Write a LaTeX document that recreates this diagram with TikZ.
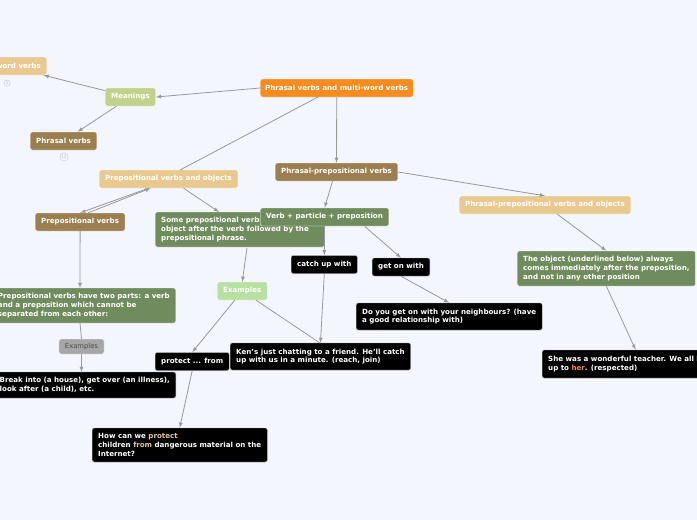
\documentclass[tikz,border=0pt]{standalone}
\usepackage{fontspec}
\setmainfont{DejaVu Sans}
\usetikzlibrary{calc}
\begin{document}
\begin{tikzpicture}[x=1pt,y=-1pt,
 bx/.style={rounded corners=2pt,draw=white,line width=0.4pt,text=white,font=\fontsize{7.1}{8.6}\selectfont\bfseries,inner xsep=6pt,inner ysep=0pt,minimum height=18pt,align=left,anchor=west},
 org/.style={bx,fill=orange1},
 tan/.style={bx,fill=tan1},
 lgr/.style={bx,fill=lgr1},
 brn/.style={bx,fill=brn1},
 grn/.style={bx,fill=grn1},
 blk/.style={bx,fill=black,draw=gray!60},
 gry/.style={bx,fill=gray!70,text=black!70,font=\fontsize{6.8}{8}\selectfont,minimum height=15pt},
 ex/.style={bx,fill=ex1},
 cnt/.style={circle,draw=gray!40,text=gray!50,inner sep=0.6pt,font=\fontsize{4.5}{5}\selectfont},
 ar/.style={draw=gray!80,line width=0.8pt,-latex},
 ln/.style={draw=gray!80,line width=0.8pt}]
\definecolor{orange1}{HTML}{F68B1E}
\definecolor{tan1}{HTML}{E9C98F}
\definecolor{lgr1}{HTML}{C1D28A}
\definecolor{brn1}{HTML}{9B7F50}
\definecolor{grn1}{HTML}{708B5D}
\definecolor{ex1}{HTML}{B8E0A0}
\definecolor{hl}{HTML}{E9C98F}
\fill[fill={rgb,255:red,243;green,245;blue,255}] (0,0) rectangle (697,520);
\useasboundingbox (0,0) rectangle (697,520);
\node[org,inner xsep=5pt] (main) at (260,88) {Phrasal verbs and multi-word verbs};
\node[tan,anchor=east] (mw) at (47,66) {Multi-word verbs};
\node[cnt] (c1) at (7,83) {1};
\node[lgr] (mean) at (105,97) {Meanings};
\node[brn] (pv) at (30,141) {Phrasal verbs};
\node[cnt] (c12) at (64,157) {12};
\node[tan] (pvo) at (99,179) {Prepositional verbs and objects};
\node[brn] (ppv) at (275,172) {Phrasal-prepositional verbs};
\node[brn] (prv) at (35,222) {Prepositional verbs};
\node[grn,minimum height=35pt] (some) at (155,229.5) {Some prepositional verbs have a direct\\object after the verb followed by the\\prepositional phrase.};
\node[grn] (vpp) at (260,217) {Verb + particle + preposition};
\node[blk] (cuw) at (291,264.5) {catch up with};
\node[blk] (gow) at (372,267) {get on with};
\node[blk,minimum height=27pt] (doyou) at (356,316.5) {Do you get on with your neighbours? (have\\a good relationship with)};
\node[ex] (exa) at (217,291) {Examples};
\node[tan] (ppvo) at (459,205) {Phrasal-prepositional verbs and objects};
\node[grn,minimum height=35pt] (obj) at (517,268.5) {The object (underlined below) always\\comes immediately after the preposition,\\and not in any other position};
\node[blk,minimum height=28pt] (she) at (542,364) {She was a wonderful teacher. We all looked\\up to \textcolor{orange1}{her}. (respected)};
\node[grn,minimum height=35pt,anchor=east] (two) at (176,305.5) {Prepositional verbs have two parts: a verb\\and a preposition which cannot be\\separated from each other:};
\node[gry,anchor=center] (exg) at (81.5,346.5) {Examples};
\node[blk,minimum height=26pt,anchor=east] (brk) at (176,385) {Break into (a house), get over (an illness),\\look after (a child), etc.\hspace*{56pt}};
\node[blk] (prot) at (155,361.5) {protect ... from};
\node[blk,minimum height=27pt] (ken) at (230,356.5) {Ken's just chatting to a friend. He'll catch\\up with us in a minute. (reach, join)};
\node[blk,minimum height=34pt] (how) at (92,445) {How can we \textcolor{hl}{protect}\\children \textcolor{hl}{from} dangerous material on the\\Internet?};
\draw[ar] (main.west) -- (mean.east);
\draw[ar] (mean) -- (mw);
\draw[ar] (mean) -- (pv);
\draw[ln] (318,97) -- (180,170);
\draw[ar] (main.south) -- (ppv.north);
\draw[ar] ($(pvo.south)+(-20,0)$) -- (prv.north);
\draw[ar] ($(prv.north)+(8,0)$) -- ($(pvo.south)+(-18,0)$);
\draw[ar] ($(pvo.south)+(15,0)$) -- (219,212);
\draw[ar] ($(ppv.south)+(-4,0)$) -- (vpp.north);
\draw[ar] (ppv.east) -- (ppvo.north);
\draw[ar] (vpp.south) -- (cuw.north);
\draw[ar] ($(vpp.south)+(40,0)$) -- (gow.north);
\draw[ar] (cuw.south) -- (ken.north);
\draw[ar] (gow.south) -- (doyou.north);
\draw[ar] (247,248) -- (exa.north);
\draw[ar] (exa) -- (prot.north);
\draw[ln] (exa) -- (320,343);
\draw[ar] (prot.south) -- (how.north);
\draw[ar] (prv.south) -- (80,288);
\draw[ln] (80,323) -- (exg.north);
\draw[ar] (exg.south) -- (81.5,372);
\draw[ar] (ppvo) -- (obj.north);
\draw[ar] (obj.south) -- (she.north);
\end{tikzpicture}
\end{document}
